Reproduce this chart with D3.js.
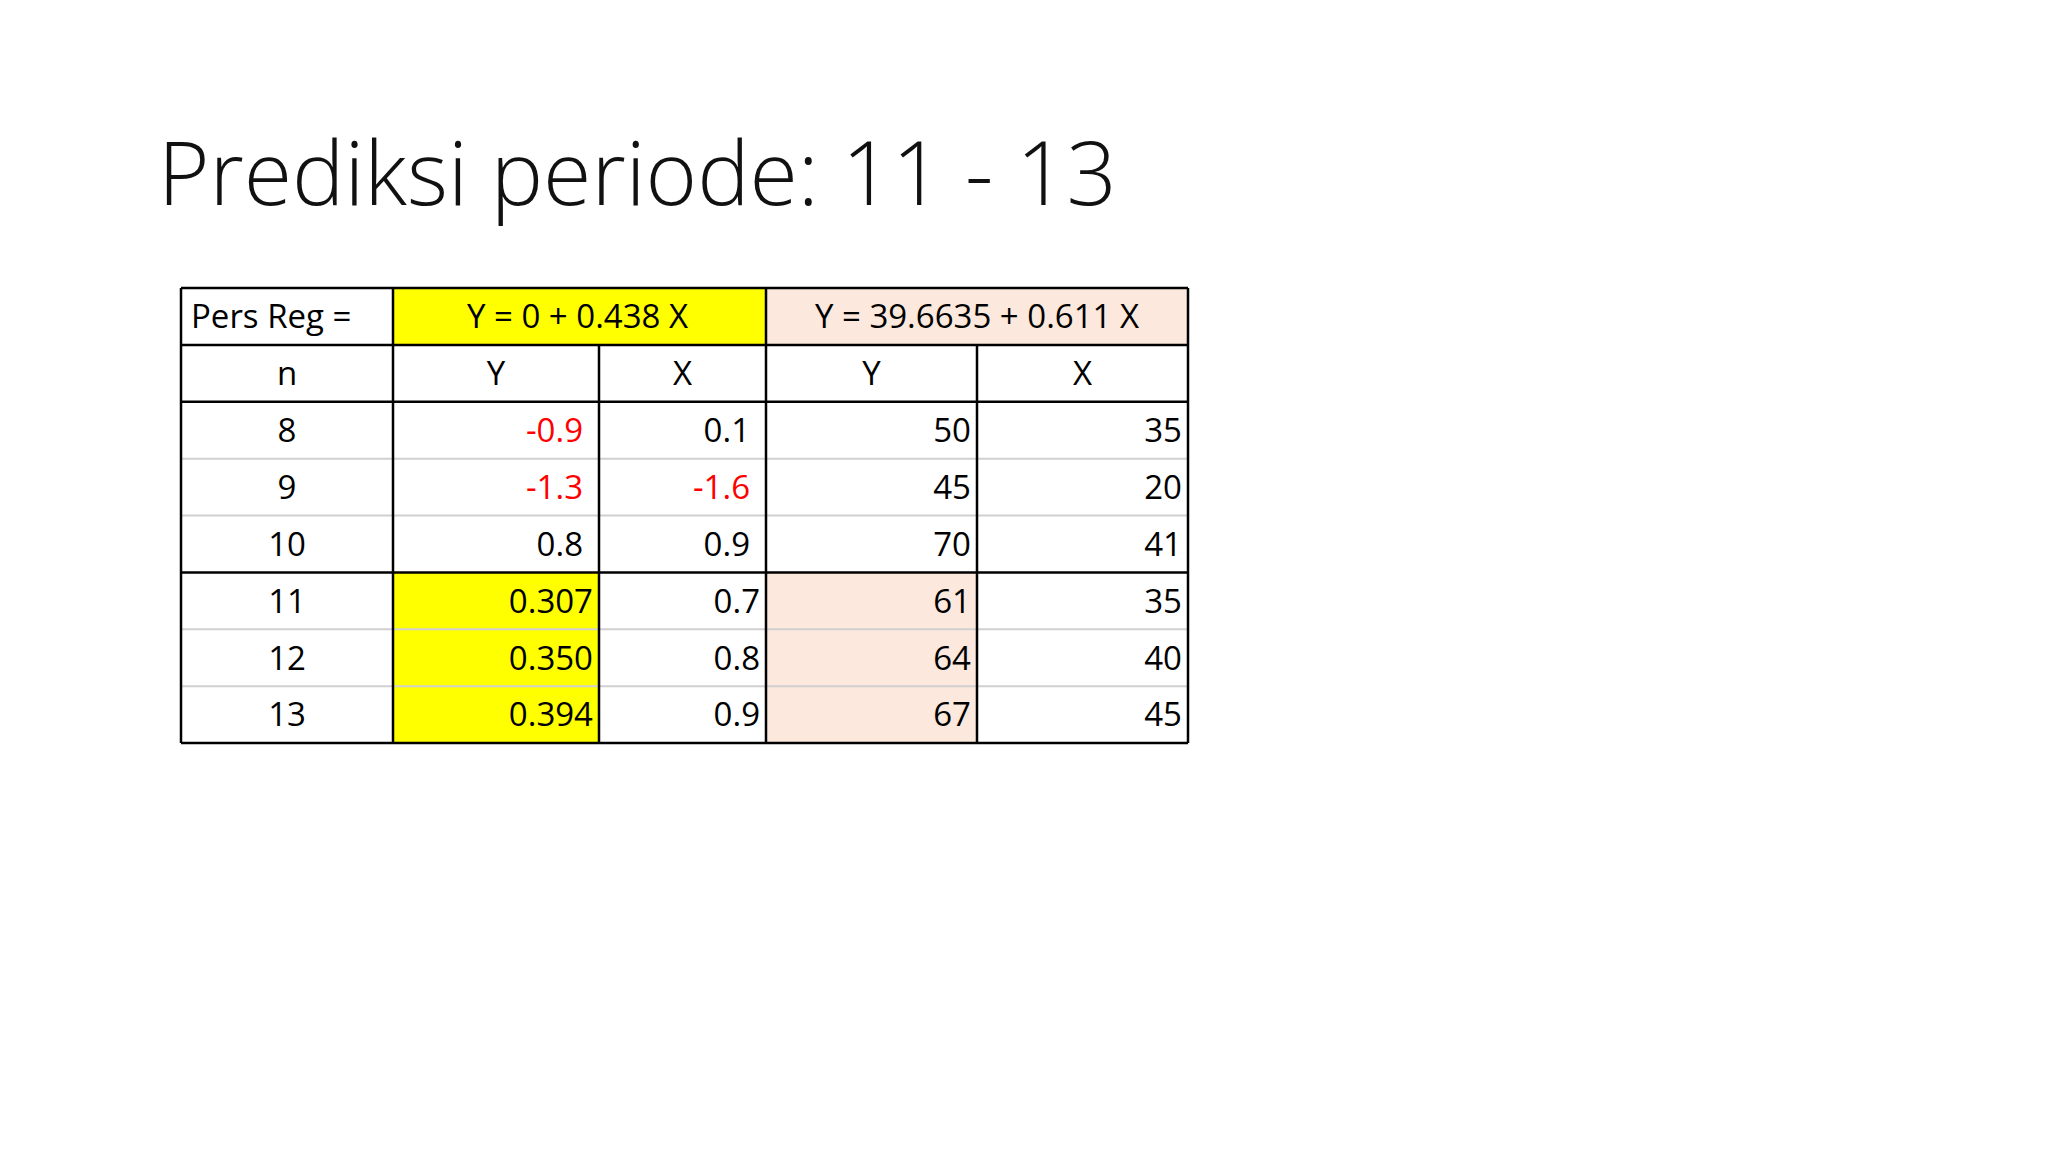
<!DOCTYPE html>
<html><head><meta charset="utf-8">
<script src="https://cdn.jsdelivr.net/npm/d3@7"></script>
<style>body{margin:0;background:#fff}</style></head>
<body><div id="chart"></div>
<script>
const title = "Prediksi periode:  11 - 13";
const headerLabel = "Pers Reg =";
const equations = ["Y = 0 + 0.438 X", "Y = 39.6635 + 0.611 X"];
const subHeaders = ["n", "Y", "X", "Y", "X"];
const periods = [8, 9, 10, 11, 12, 13];
const y1 = ["-0.9", "-1.3", "0.8", "0.307", "0.350", "0.394"];
const x1 = ["0.1", "-1.6", "0.9", "0.7", "0.8", "0.9"];
const y2 = ["50", "45", "70", "61", "64", "67"];
const x2 = ["35", "20", "41", "35", "40", "45"];

const W = 2048, H = 1152;
const svg = d3.select("#chart").append("svg").attr("width", W).attr("height", H);
const font = "'Open Sans', sans-serif";

svg.append("text").attr("x", 158).attr("y", 205)
  .attr("font-family", font).attr("font-weight", 300).attr("font-size", 88)
  .attr("fill", "#111").text(title);

// column edges and row bands
const colEdges = [181, 393, 599, 766, 977, 1188];
const rows = d3.range(periods.length + 2);
const yRow = d3.scaleBand().domain(rows).range([288, 743]);
const rh = yRow.bandwidth();
const g = svg.append("g");

// fills
const fill = (c0, c1, r0, r1, col) => g.append("rect")
  .attr("x", colEdges[c0]).attr("width", colEdges[c1] - colEdges[c0])
  .attr("y", yRow(r0)).attr("height", yRow(r1) + rh - yRow(r0)).attr("fill", col);
fill(1, 3, 0, 0, "#ffff00");
fill(3, 5, 0, 0, "#fce8dc");
fill(1, 2, 5, 7, "#ffff00");
fill(3, 4, 5, 7, "#fce8dc");

// horizontal lines
rows.concat([rows.length]).forEach(i => {
  const y = i < rows.length ? yRow(i) : yRow(rows.length - 1) + rh;
  const light = [3, 4, 6, 7].includes(i);
  g.append("line").attr("x1", colEdges[0]).attr("x2", colEdges[5])
    .attr("y1", y).attr("y2", y)
    .attr("stroke", light ? "#d0d0d0" : "#000").attr("stroke-width", light ? 2 : 2.5);
});
// vertical lines
colEdges.forEach((x, i) => {
  const top = (i === 2 || i === 4) ? yRow(1) : yRow(0);
  g.append("line").attr("x1", x).attr("x2", x).attr("y1", top).attr("y2", 743)
    .attr("stroke", "#000").attr("stroke-width", 2.5);
});

const txt = (x, r, s, anchor, color) => g.append("text")
  .attr("x", x).attr("y", yRow(r) + rh / 2).attr("dy", "0.36em")
  .attr("text-anchor", anchor).attr("font-family", font).attr("font-size", 33)
  .attr("fill", color || "#000").text(s);
const mid = i => (colEdges[i] + colEdges[i + 1]) / 2;

txt(colEdges[0] + 10, 0, headerLabel, "start");
txt(mid(1) + (colEdges[3] - colEdges[2]) / 2 - 2, 0, equations[0], "middle");
txt(colEdges[4], 0, equations[1], "middle");
subHeaders.forEach((s, i) => txt(mid(i), 1, s, "middle"));
const neg = s => s.startsWith("-") ? "#ff0000" : "#000";
periods.forEach((p, i) => {
  const r = i + 2;
  txt(mid(0), r, p, "middle");
  txt(colEdges[2] - (i < 3 ? 16 : 6), r, y1[i], "end", neg(y1[i]));
  txt(colEdges[3] - (i < 3 ? 16 : 6), r, x1[i], "end", neg(x1[i]));
  txt(colEdges[4] - 6, r, y2[i], "end");
  txt(colEdges[5] - 6, r, x2[i], "end");
});
</script></body></html>
